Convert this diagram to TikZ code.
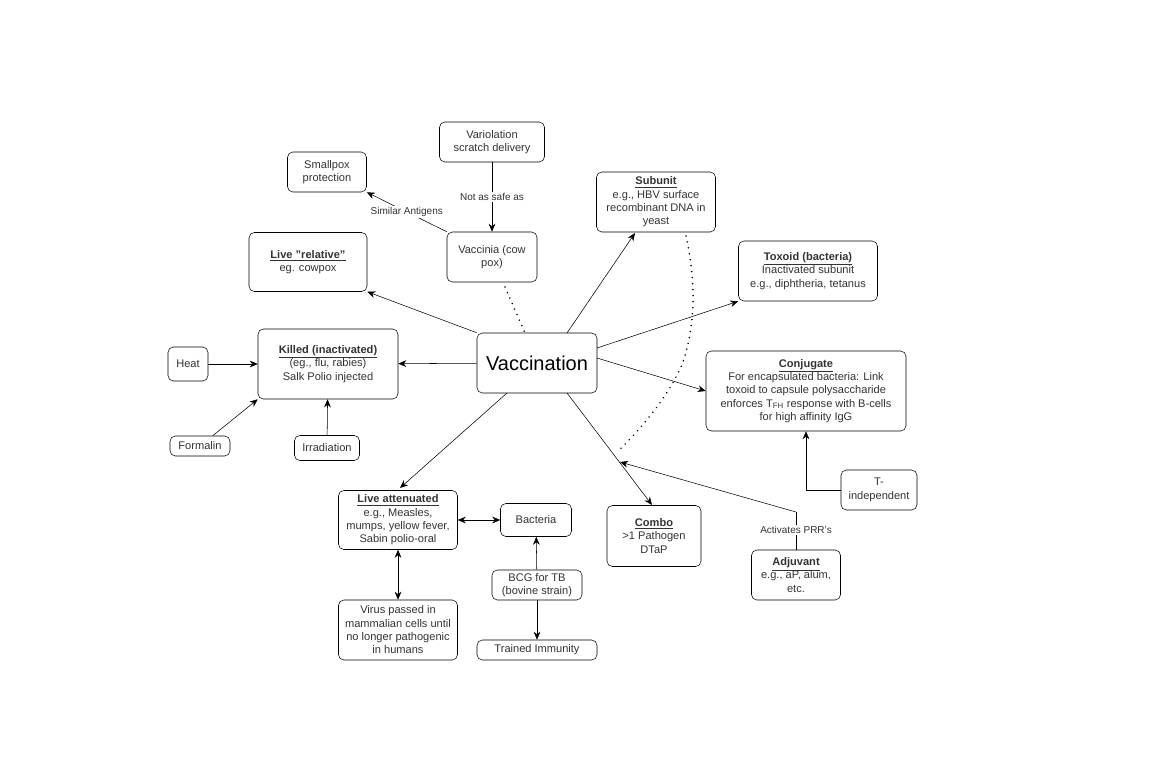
\documentclass[tikz,border=0pt]{standalone}
\usepackage{fontspec}
\setmainfont{Liberation Sans}
\usetikzlibrary{arrows.meta}
\begin{document}
\begin{tikzpicture}[x=0.75pt,y=-0.75pt,
  bx/.style={draw,rounded corners=4pt,align=center,font=\fontsize{8.3}{10}\selectfont,inner sep=0pt,text=black!80},
  ar/.style={-{Stealth[length=6pt,width=5pt]}},
  dar/.style={{Stealth[length=6pt,width=5pt]}-{Stealth[length=6pt,width=5pt]}},
  lab/.style={fill=white,font=\fontsize{7.5}{9}\selectfont,inner sep=1pt,text=black!80},
  dots/.style={line width=1.3pt,dash pattern=on 0.01pt off 4.5pt,line cap=round}]
\useasboundingbox (0,0) rectangle (1152,763);
\node[bx,minimum width=105*0.75pt,minimum height=40*0.75pt] (var) at (492,142) {Variolation\\scratch delivery};
\node[bx,minimum width=79*0.75pt,minimum height=40*0.75pt] (small) at (327,172) {Smallpox\\protection};
\node[bx,minimum width=90*0.75pt,minimum height=50*0.75pt] (vac) at (492,257) {Vaccinia (cow\\pox)};
\node[bx,minimum width=118*0.75pt,minimum height=59*0.75pt] (rel) at (308,262) {\underline{\textbf{Live "relative"}}\\eg. cowpox};
\node[bx,minimum width=119*0.75pt,minimum height=60*0.75pt] (sub) at (656,202) {\underline{\textbf{Subunit}}\\e.g., HBV surface\\recombinant DNA in\\yeast};
\node[bx,minimum width=139*0.75pt,minimum height=60*0.75pt] (tox) at (808,271) {\underline{\textbf{Toxoid (bacteria)}}\\Inactivated subunit\\e.g., diphtheria, tetanus};
\node[bx,minimum width=120*0.75pt,minimum height=60*0.75pt,font=\fontsize{15}{18}\selectfont,text=black] (vn) at (537,363) {Vaccination};
\node[bx,minimum width=140*0.75pt,minimum height=70*0.75pt] (kill) at (328,364) {\underline{\textbf{Killed (inactivated)}}\\(eg., flu, rabies)\\Salk Polio injected};
\node[bx,minimum width=40*0.75pt,minimum height=34*0.75pt] (heat) at (188,364) {Heat};
\node[bx,minimum width=60*0.75pt,minimum height=20*0.75pt] (form) at (200,446) {Formalin};
\node[bx,minimum width=65*0.75pt,minimum height=25*0.75pt] (irr) at (327,448) {Irradiation};
\node[bx,minimum width=200*0.75pt,minimum height=80*0.75pt] (conj) at (806,391) {\underline{\textbf{Conjugate}}\\For encapsulated bacteria: Link\\toxoid to capsule polysaccharide\\enforces T$_{\mathrm{FH}}$ response with B-cells\\for high affinity IgG};
\node[bx,minimum width=76*0.75pt,minimum height=40*0.75pt] (tind) at (879,490) {T-\\independent};
\node[bx,minimum width=119*0.75pt,minimum height=59*0.75pt] (latt) at (398,520) {\underline{\textbf{Live attenuated}}\\e.g., Measles,\\mumps, yellow fever,\\Sabin polio-oral};
\node[bx,minimum width=71*0.75pt,minimum height=33*0.75pt] (bact) at (536,520) {Bacteria};
\node[bx,minimum width=90*0.75pt,minimum height=30*0.75pt] (bcg) at (537,585) {BCG for TB\\(bovine strain)};
\node[bx,minimum width=120*0.75pt,minimum height=20*0.75pt] (trained) at (537,650) {Trained Immunity};
\node[bx,minimum width=119*0.75pt,minimum height=60*0.75pt] (virus) at (398,630) {Virus passed in\\mammalian cells until\\no longer pathogenic\\in humans};
\node[bx,minimum width=94*0.75pt,minimum height=61*0.75pt] (combo) at (654,536) {\underline{\textbf{Combo}}\\>1 Pathogen\\DTaP};
\node[bx,minimum width=89*0.75pt,minimum height=50*0.75pt] (adj) at (796,575) {\underline{\textbf{Adjuvant}}\\e.g., aP, alum,\\etc.};
\coordinate (adjend) at (620,462);
\coordinate (dotend) at (617,452);

\draw[ar] (var) -- node[lab]{Not as safe as} (vac);
\draw[ar] (vac.north west) -- node[lab,pos=0.5]{Similar Antigens} (small.south east);
\draw[ar] (vn.north west) -- (rel.south east);
\draw[ar] (vn) -- (kill);
\draw[ar] (heat) -- (kill);
\draw[ar] (form) -- (kill.south west);
\draw[ar] (irr) -- (kill);
\draw[dots] (505,287) -- (525,333);
\draw[ar] (567,333) -- (635,233);
\draw[ar] (597,348) -- (tox.south west);
\draw[ar] (597,358) -- (conj.west);
\draw[ar] (567,393) -- (652,505);
\draw[ar] (507,393) -- (400,488);
\draw[dots] (686,236) .. controls (700,300) and (690,340) .. (683,362) .. controls (670,395) and (640,430) .. (dotend);
\draw (adj.north) -- (796,512);
\draw[ar] (796,512) -- (adjend);
\node[lab] at (796,530) {Activates PRR's};
\draw[ar] (tind.west) -| (conj.south);
\draw[dar] (latt) -- (bact);
\draw[dar] (latt) -- (virus);
\draw[ar] (bcg) -- (bact);
\draw[ar] (bcg) -- (trained);
\end{tikzpicture}
\end{document}
